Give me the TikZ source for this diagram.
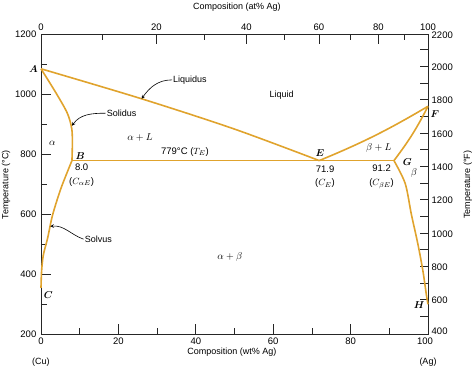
\documentclass[tikz,border=0pt]{standalone}
\usepackage{fontspec}
\setmainfont{Liberation Sans}
\usepackage{amsmath}
\usepackage{bm}
\usepackage{tikz}
\usetikzlibrary{math}
\usetikzlibrary{positioning}
\definecolor{cgold}{RGB}{224,163,45}

\begin{document}
\begin{tikzpicture}[x=3.87pt, y=0.3pt,
    phaseline/.style={cgold, line width=1.6pt, line join=round},
    axline/.style={black!85, line width=0.9pt},
    axtick/.style={black!85, line width=0.7pt},
    ticklab/.style={font=\fontsize{9.5}{11}\selectfont, inner sep=1.5pt},
    complab/.style={font=\fontsize{9.5}{13.4}\selectfont, align=center, inner sep=1pt},
    axtitle/.style={font=\fontsize{9}{11}\selectfont},
    calllab/.style={font=\fontsize{9}{11}\selectfont, inner sep=1pt},
    regionlab/.style={font=\fontsize{10}{12}\selectfont},
    pointlab/.style={font=\fontsize{10}{12}\selectfont, inner sep=1pt},
    callout/.style={-stealth, line width=0.6pt, black}]
  \tikzmath{
    \tbot = 200;
    \ttop = 1200;
    \tcu = 1085;
    \teut = 779;
    \tag = 960;
    %
    \caE = 8.0;
    \cE = 71.9;
    \cbE = 91.2;
  }
  \useasboundingbox (-10.594, 84.3) rectangle (111.886, 1314.3);

  % frame
  \draw [axline] (0, \tbot) rectangle (100, \ttop);
  % deg C ticks
  \foreach \t in {300, 500, ..., 1100}
    \draw [axtick] (0, \t) -- ++(6pt, 0);
  \foreach \t in {400, 600, ..., 1000}
    \draw [axtick] (0, \t) -- ++(10pt, 0);
  \foreach \t in {200, 400, ..., 1200}
    \node [ticklab, left=3pt] (tc\t) at (0, \t) {\t};
  % deg F ticks
  \foreach \f in {500, 600, ..., 2100}
    \draw [axtick] (100, {(\f-32)/1.8}) -- ++(-8pt, 0);
  \foreach \f in {600, 800, ..., 2000}
    \node [ticklab, right=2pt, yshift=-1pt] (tf\f) at (100, {(\f-32)/1.8}) {\f};
  \node [ticklab, right=2pt, yshift=-2.5pt] (tf2200) at (100, {(2200-32)/1.8}) {2200};
  \node [ticklab, right=2pt, yshift=1.5pt] (tf400) at (100, {(400-32)/1.8}) {400};
  % wt% ticks
  \foreach \w in {10, 30, ..., 90}
    \draw [axtick] (\w, \tbot) -- ++(0, 6pt);
  \foreach \w in {20, 40, ..., 80}
    \draw [axtick] (\w, \tbot) -- ++(0, 10pt);
  \foreach \w in {0, 20, ..., 80}
    \node [ticklab, below=1.5pt] (tw\w) at (\w, \tbot) {\w};
  \node [ticklab, below=1.5pt, xshift=-3pt] (tw100) at (100, \tbot) {100};
  % at% ticks
  \foreach \a in {10, 30, ..., 90} {
    \pgfmathsetmacro\wa{100*\a*1.07868/(\a*1.07868+(100-\a)*0.63546)}
    \draw [axtick] (\wa, \ttop) -- ++(0, -6pt);
  }
  \foreach \a in {0, 20, ..., 100} {
    \pgfmathsetmacro\wa{100*\a*1.07868/(\a*1.07868+(100-\a)*0.63546)}
    \ifnum\a>0 \ifnum\a<100 \draw [axtick] (\wa, \ttop) -- ++(0, -10pt); \fi\fi
    \node [ticklab, above=2pt] (ta\a) at (\wa, \ttop) {\a};
  }

  % axis titles
  \node [axtitle] (attitle) at (50.6, 1291) {Composition (at\% Ag)};
  \node [axtitle] (wttitle) at (49.3, 140) {Composition (wt\% Ag)};
  \node [axtitle] (cu) at (0, 107) {(Cu)};
  \node [axtitle] (ag) at (100, 107) {(Ag)};
  \node [axtitle, rotate=90] (degc) at (-9.04, 698) {Temperature (°C)};
  \node [axtitle, rotate=90] (degf) at (110.3, 698) {Temperature (°F)};

  % invariant points
  \coordinate (A) at (0, \tcu);
  \coordinate (B) at (\caE, \teut);
  \coordinate (C) at (0, 355);
  \coordinate (E) at (\cE, \teut);
  \coordinate (F) at (100, \tag);
  \coordinate (G) at (\cbE, \teut);
  \coordinate (H) at (100, 300);

  % liquidus
  \draw [phaseline] plot [smooth] coordinates {(A) (26, 985) (50, 884) (E)};
  \draw [phaseline] (E) to [bend right=4] (F);
  % solidus
  \draw [phaseline] plot [smooth] coordinates {(A) (3.9, 1004) (6.8, 937) (7.95, 885) (8.1, 835) (B)};
  \draw [phaseline] (G) to [bend right=5] (F);
  % eutectic isotherm
  \draw [phaseline] (B) -- (G);
  % solvus lines
  \draw [phaseline] plot [smooth] coordinates {(B) (5.2, 688) (3.0, 598) (1.7, 520) (0.6, 464) (0.15, 410) (C)};
  \draw [phaseline] plot [smooth] coordinates {(G) (94.1, 703) (95.7, 600) (97.4, 500) (98.7, 410) (99.6, 330) (H)};

  % point letters
  \node [pointlab, left=2pt] (labA) at (A) {$\bm{A}$};
  \node [pointlab] (labB) at (10.1, 795) {$\bm{B}$};
  \node [pointlab] (labC) at (1.9, 331) {$\bm{C}$};
  \node [pointlab] (labE) at (72.1, 805) {$\bm{E}$};
  \node [pointlab] (labF) at (101.8, 934) {$\bm{F}$};
  \node [pointlab] (labG) at (94.65, 773) {$\bm{G}$};
  \node [pointlab] (labH) at (97.75, 298) {$\bm{H}$};

  % phase regions
  \node [axtitle] (liquid) at (62.2, 998) {Liquid};
  \node [regionlab] (alpha) at (2.92, 837) {$\alpha$};
  \node [regionlab] (alphaL) at (25.6, 857) {$\alpha + L$};
  \node [regionlab] (betaL) at (87.3, 820) {$\beta + L$};
  \node [regionlab] (beta) at (96.4, 739) {$\beta$};
  \node [regionlab] (alphabeta) at (48.8, 457) {$\alpha + \beta$};

  % eutectic compositions and temperature
  \node [complab] (caE) at (10.5, 731) {8.0\\($C_{\alpha E}$)};
  \node [complab] (cE) at (73.4, 725) {71.9\\($C_E$)};
  \node [complab] (cbE) at (88.0, 725) {91.2\\($C_{\beta E}$)};
  \node [ticklab] (tE) at (37.2, 809) {779°C ($T_E$)};

  % callouts
  \node [calllab] (liqlab) at (38.5, 1048) {Liquidus};
  \coordinate (liqpt) at (26, 985);
  \draw [callout] (liqlab.west) to [out=180, in=55] (liqpt);
  \node [calllab] (sollab) at (20.85, 937) {Solidus};
  \coordinate (solpt) at (8.0, 895);
  \draw [callout] (sollab.west) to [out=180, in=55] (solpt);
  \node [calllab] (solvlab) at (14.8, 517) {Solvus};
  \coordinate (solvpt) at (2.4, 560);
  \draw [callout] (solvlab.west) to [out=160, in=5] (solvpt);
\end{tikzpicture}
\end{document}
